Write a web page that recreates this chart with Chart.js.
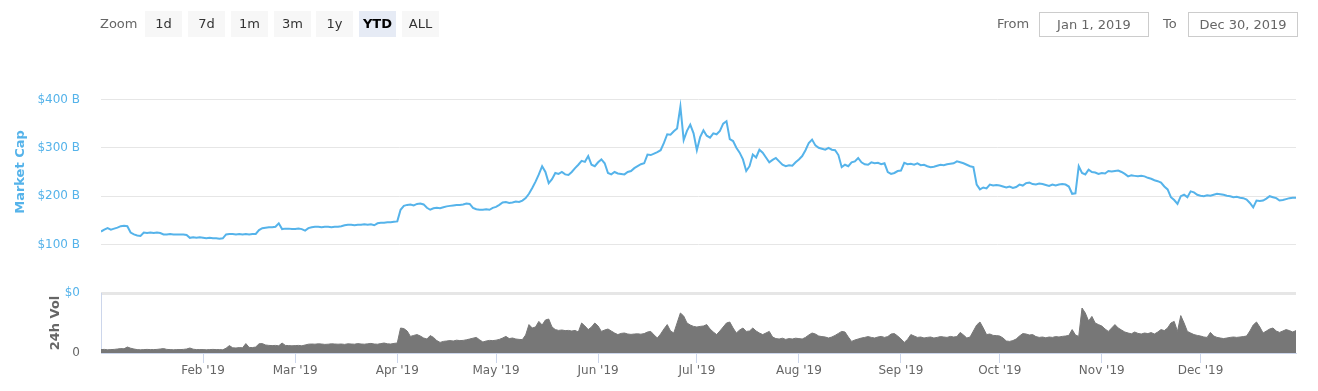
<!DOCTYPE html>
<html><head><meta charset="utf-8">
<script src="https://cdn.jsdelivr.net/npm/chart.js@4/dist/chart.umd.min.js"></script>
<style>
html,body{margin:0;padding:0;background:#fff;}
#wrap{position:relative;width:1318px;height:391px;font-family:"DejaVu Sans",sans-serif;overflow:hidden;}
#c{position:absolute;left:0;top:0;}
.lbl{position:absolute;top:11px;height:26px;line-height:26px;font-size:13px;color:#666;}
.btn{position:absolute;top:11px;width:37px;height:26px;line-height:26px;text-align:center;background:#f7f7f7;color:#333;font-size:13px;}
.btn.sel{background:#e6ebf5;font-weight:bold;color:#000;}
.inp{position:absolute;top:12px;height:25px;line-height:23px;border:1px solid #ccc;box-sizing:border-box;text-align:center;color:#666;font-size:13px;}
</style></head>
<body>
<div id="wrap">
<canvas id="c" width="1318" height="391"></canvas>
<div class="lbl" style="left:100px">Zoom</div>
<div class="btn" style="left:145px">1d</div>
<div class="btn" style="left:188px">7d</div>
<div class="btn" style="left:231px">1m</div>
<div class="btn" style="left:274px">3m</div>
<div class="btn" style="left:316px">1y</div>
<div class="btn sel" style="left:359px">YTD</div>
<div class="btn" style="left:402px">ALL</div>
<div class="lbl" style="left:997px">From</div>
<div class="inp" style="left:1039px;width:110px">Jan 1, 2019</div>
<div class="lbl" style="left:1163px">To</div>
<div class="inp" style="left:1188px;width:110px">Dec 30, 2019</div>
</div>
<script>
// Total market cap, $ billions, one value per day (Jan 1 - Dec 30, 2019)
const capJan = [127,131,134,131,133,135,138,139,138,125,121,119,118,125,124,125,124,125,124,121,121,122,121,121,121,121,120,114,115,114,115];
const capFeb = [114,113,114,113,113,112,113,121,122,122,121,122,121,122,121,122,122,130,134,135,136,136,137,144,132,133,133,132];
const capMar = [132,133,132,129,134,136,137,137,136,137,137,136,137,137,138,140,141,141,140,141,141,142,141,142,140,144,145,145,146,146,147];
const capApr = [148,172,180,182,183,181,184,185,183,176,172,175,176,175,177,179,180,181,182,182,183,185,184,176,173,172,172,173,172,176];
const capMay = [178,182,187,188,186,187,189,188,191,196,205,217,230,245,262,250,227,235,248,246,250,245,244,250,258,265,273,271,283,265,262];
const capJun = [270,276,268,248,245,250,247,246,245,250,252,258,262,266,268,286,285,288,291,295,310,328,327,334,340,385,316,335,348,330];
const capJul = [295,322,336,325,321,330,328,335,350,355,318,314,300,290,276,252,262,286,280,296,290,280,270,275,279,272,265,262,264,263,270];
const capAug = [276,283,295,310,317,305,300,298,296,300,296,295,285,260,265,262,270,272,279,270,266,265,270,268,269,266,268,250,246,248,252];
const capSep = [253,269,266,267,265,268,264,265,262,260,261,263,265,264,266,267,268,272,270,268,265,262,260,224,214,218,216,224,222,223];
const capOct = [222,220,218,220,217,219,224,222,227,228,225,224,226,225,223,221,224,222,224,225,224,220,205,206,262,248,245,255,250,249,246];
const capNov = [248,247,252,251,252,253,250,246,241,243,242,241,242,241,238,236,233,231,228,220,214,198,192,184,200,203,198,210,208,203];
const capDec = [201,200,202,201,203,205,204,203,201,200,198,199,197,196,193,186,177,191,190,191,195,200,198,196,191,192,194,196,197,197];

// 24h volume, $ billions, one value per day
const volJan = [17,18,16,17,18,20,22,21,30,24,20,17,16,17,18,17,17,18,20,22,18,17,16,17,17,18,20,25,19,17,17];
const volFeb = [17,16,17,18,17,17,16,24,37,26,25,27,26,47,28,27,30,46,47,40,38,37,38,36,50,38,37,36];
const volMar = [37,38,36,40,44,45,44,46,45,43,44,46,45,44,45,43,46,45,44,47,45,44,46,48,45,44,47,50,46,45,48];
const volApr = [50,125,122,110,83,88,92,85,75,70,87,78,62,53,58,60,62,60,64,62,63,66,70,74,78,66,55,60,63,62];
const volMay = [64,68,75,83,72,75,70,68,67,90,142,125,130,158,140,165,170,130,117,113,115,112,113,110,113,105,150,135,117,130,150];
const volJun = [135,108,115,120,110,100,92,98,100,95,93,95,96,94,97,105,108,90,75,95,120,142,110,100,150,200,185,150,140,133];
const volJul = [130,133,135,142,120,105,92,110,130,150,155,125,100,115,125,108,110,125,110,100,92,100,108,80,72,70,74,68,72,70,74];
const volAug = [72,70,78,90,100,95,85,82,80,75,80,88,98,108,105,80,58,65,70,75,78,82,78,75,80,83,78,82,95,97,85];
const volSep = [70,53,68,92,85,78,80,75,78,80,75,78,82,80,78,83,80,82,103,90,75,80,110,140,155,125,92,95,88,87];
const volOct = [85,75,60,58,62,70,85,97,95,90,92,82,78,80,76,80,78,82,80,83,85,88,117,90,83,225,200,160,183,150,142];
const volNov = [135,120,108,125,142,125,115,105,100,96,105,98,95,100,97,102,95,105,117,112,125,150,158,108,187,150,108,100,92,88];
const volDec = [85,80,78,103,85,78,75,72,75,78,80,78,80,82,85,110,140,155,130,100,110,120,125,110,103,110,117,112,105,112];

// x-axis ticks: day index (from Jan 1) of each month start
const monthTickDays = [31,59,90,120,151,181,212,243,273,304,334];
const monthTickLabels = ["Feb '19","Mar '19","Apr '19","May '19","Jun '19","Jul '19","Aug '19","Sep '19","Oct '19","Nov '19","Dec '19"];
// y-axis ticks ($ billions)
const capTickValues = [0,100,200,300,400];
const volTickValues = [0];

const capValues = [].concat(capJan,capFeb,capMar,capApr,capMay,capJun,capJul,capAug,capSep,capOct,capNov,capDec);
const volValues = [].concat(volJan,volFeb,volMar,volApr,volMay,volJun,volJul,volAug,volSep,volOct,volNov,volDec);

const FONT = '"DejaVu Sans", sans-serif';
const BLUE = '#55b3ea';

new Chart(document.getElementById('c'), {
  type: 'line',
  data: {
    datasets: [
      {
        label: 'Market Cap',
        data: capValues.map((v, i) => ({x: i, y: v})),
        yAxisID: 'y',
        borderColor: BLUE,
        borderWidth: 2,
        pointRadius: 0,
        tension: 0,
        fill: false,
        order: 0
      },
      {
        label: '24h Vol',
        data: volValues.map((v, i) => ({x: i, y: v})),
        yAxisID: 'y2',
        borderColor: '#777777',
        backgroundColor: '#777777',
        borderWidth: 1,
        pointRadius: 0,
        tension: 0,
        fill: 'origin',
        order: 1
      }
    ]
  },
  options: {
    responsive: false,
    animation: false,
    devicePixelRatio: 1,
    layout: {padding: {left: 0, top: 51, right: 22, bottom: 0}},
    plugins: {legend: {display: false}, tooltip: {enabled: false}},
    scales: {
      x: {
        type: 'linear', min: 0, max: 363, position: 'bottom',
        afterBuildTicks: s => { s.ticks = monthTickDays.map(v => ({value: v})); },
        afterFit: s => { s.height = 38; },
        ticks: {
          autoSkip: false, maxRotation: 0, padding: 1, color: '#666',
          font: {family: FONT, size: 12},
          callback: v => monthTickLabels[monthTickDays.indexOf(v)]
        },
        grid: {drawOnChartArea: false, drawTicks: true, tickLength: 10, color: '#ccd6eb', lineWidth: 1},
        border: {display: true, color: '#ccd6eb', width: 1}
      },
      y: {
        type: 'linear', min: 0, max: 500, position: 'left',
        stack: 'panes', stackWeight: 242, weight: 1,
        afterBuildTicks: s => { s.ticks = capTickValues.map(v => ({value: v})); },
        afterFit: s => { s.width = 101; },
        ticks: {
          padding: 21, color: BLUE, font: {family: FONT, size: 12},
          callback: v => v === 0 ? '$0' : '$' + v + ' B'
        },
        grid: {
          drawTicks: false, color: '#e6e6e6',
          lineWidth: c => (c.tick && c.tick.value === 0) ? 3 : 1
        },
        border: {display: false},
        title: {display: true, text: 'Market Cap', color: BLUE, font: {family: FONT, size: 13, weight: 'bold'}, padding: {top: 13, bottom: 0}}
      },
      y2: {
        type: 'linear', min: 0, max: 300, position: 'left',
        stack: 'panes', stackWeight: 60, weight: 0,
        afterBuildTicks: s => { s.ticks = volTickValues.map(v => ({value: v})); },
        afterFit: s => { s.width = 101; },
        ticks: {padding: 21, color: '#666', font: {family: FONT, size: 12}, callback: v => String(v)},
        grid: {display: false, drawTicks: false},
        border: {display: true, color: '#ccd6eb', width: 1},
        title: {display: true, text: '24h Vol', color: '#666', font: {family: FONT, size: 13, weight: 'bold'}, padding: {top: 48, bottom: 0}}
      }
    }
  }
});
</script>
</body></html>
